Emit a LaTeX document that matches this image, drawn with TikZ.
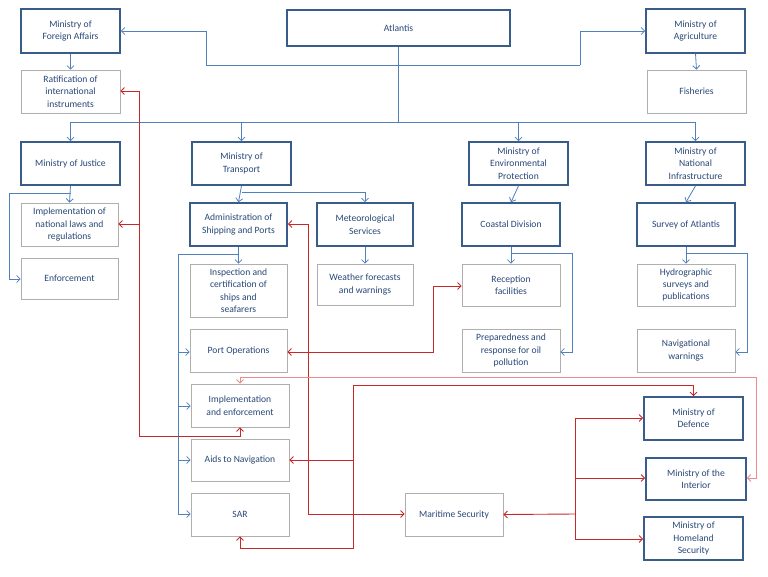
\documentclass[tikz,border=0pt]{standalone}
\usepackage{fontspec}
\setmainfont{Carlito}
\usetikzlibrary{arrows.meta}
\definecolor{txt}{RGB}{40,72,120}
\definecolor{bdk}{RGB}{56,93,138}
\definecolor{bln}{RGB}{79,129,189}
\definecolor{gry}{RGB}{175,175,175}
\definecolor{rdd}{RGB}{200,40,40}
\definecolor{lrd}{RGB}{232,140,140}
\newcommand\bx[7]{\node[#6, minimum width={#4pt-#2pt}, minimum height={#5pt-#3pt}] (#1) at ({(#2+#4)/2},{(#3+#5)/2}) {#7};}
\begin{document}
\begin{tikzpicture}[x=1pt,y=-1pt,
  base/.style={draw, align=center, inner sep=1pt, text=txt, font=\fontsize{9.6}{12.4}\selectfont},
  thk/.style={base, draw=bdk, line width=1.6pt},
  thn/.style={base, draw=gry, line width=0.7pt},
  bl/.style={draw=bln, line width=0.8pt, -{Straight Barb[length=3.5pt,width=7pt]}},
  bn/.style={draw=bln, line width=0.8pt},
  rd/.style={draw=rdd, line width=0.9pt, -{Straight Barb[length=3.5pt,width=7pt]}},
  rdb/.style={rd, {Straight Barb[length=3.5pt,width=7pt]}-{Straight Barb[length=3.5pt,width=7pt]}},
  rn/.style={draw=rdd, line width=0.9pt},
  lr/.style={draw=lrd, line width=0.9pt, {Straight Barb[length=3.5pt,width=7pt]}-{Straight Barb[length=3.5pt,width=7pt]}}]
\useasboundingbox[fill=white] (0,0) rectangle (768,576);
\bx{atl}{287}{10}{510}{46}{thk}{Atlantis}
\bx{mfa}{21}{9}{120}{53}{thk}{Ministry of\\Foreign Affairs}
\bx{rat}{21}{70}{120}{113}{thn}{Ratification of\\international\\instruments}
\bx{mag}{646}{9}{745}{53}{thk}{Ministry of\\Agriculture}
\bx{fis}{647}{70}{746}{113}{thn}{Fisheries}
\bx{jus}{21}{142}{120}{185}{thk}{Ministry of Justice}
\bx{tra}{192}{142}{291}{185}{thk}{Ministry of\\Transport}
\bx{env}{469}{142}{568}{185}{thk}{Ministry of\\Environmental\\Protection}
\bx{ni}{646}{142}{745}{185}{thk}{Ministry of\\National\\Infrastructure}
\bx{imn}{21}{203}{118}{246}{thn}{Implementation of\\national laws and\\regulations}
\bx{enf}{21}{258}{118}{299}{thn}{Enforcement}
\bx{adm}{190}{203}{287}{246}{thk}{Administration of\\Shipping and Ports}
\bx{met}{317}{203}{413}{246}{thk}{Meteorological\\Services}
\bx{wea}{317}{264}{413}{305}{thn}{Weather forecasts\\and warnings}
\bx{ins}{190}{264}{287}{317}{thn}{Inspection and\\certification of\\ships and\\seafarers}
\bx{por}{190}{329}{287}{372}{thn}{Port Operations}
\bx{coa}{462}{203}{560}{246}{thk}{Coastal Division}
\bx{rec}{462}{264}{560}{306}{thn}{Reception\\facilities}
\bx{pre}{462}{329}{560}{372}{thn}{Preparedness and\\response for oil\\pollution}
\bx{sur}{637}{203}{735}{246}{thk}{Survey of Atlantis}
\bx{hyd}{637}{264}{735}{306}{thn}{Hydrographic\\surveys and\\publications}
\bx{nav}{637}{329}{735}{372}{thn}{Navigational\\warnings}
\bx{ime}{191}{384}{289}{427}{thn}{Implementation\\and enforcement}
\bx{aid}{191}{439}{289}{481}{thn}{Aids to Navigation}
\bx{sar}{191}{493}{289}{536}{thn}{SAR}
\bx{mar}{405}{493}{503}{536}{thn}{Maritime Security}
\bx{def}{644}{397}{743}{440}{thk}{Ministry of\\Defence}
\bx{int}{646}{458}{746}{500}{thk}{Ministry of the\\Interior}
\bx{hom}{644}{517}{743}{560}{thk}{Ministry of\\Homeland\\Security}
% blue
\draw[bn] (atl.south) -- (atl.south |- 0,122);
\draw[bn] (jus.north |- 0,122) -- (ni.north |- 0,122);
\foreach \n in {jus,tra,env,ni} \draw[bl] (\n.north |- 0,122) -- (\n.north);
\draw[bn] (206,65) -- (580,65);
\draw[bl] (206,65) -- (206,31) -- (mfa.east |- 0,31);
\draw[bl] (580,65) -- (580,31) -- (mag.west |- 0,31);
\draw[bl] (mfa.south) -- (rat.north);
\draw[bl] (mag.south) -- (fis.north);
\draw[bl] (jus.south) -- (imn.north);
\draw[bl] (jus.south |- 0,193) -- (9,193) -- (9,279) -- (enf.west |- 0,279);
\draw[bl] (tra.south) -- (adm.north);
\draw[bl] (tra.south |- 0,192) -- (met.north |- 0,192) -- (met.north);
\draw[bl] (met.south) -- (wea.north);
\draw[bl] (adm.south) -- (ins.north);
\draw[bl] (adm.south |- 0,254) -- (178,254) -- (178,514) -- (sar.west |- 0,514);
\draw[bl] (178,352) -- (por.west |- 0,352);
\draw[bl] (178,406) -- (ime.west |- 0,406);
\draw[bl] (178,460) -- (aid.west |- 0,460);
\draw[bl] (env.south) -- (coa.north);
\draw[bl] (ni.south) -- (sur.north);
\draw[bl] (coa.south) -- (rec.north);
\draw[bl] (coa.south |- 0,253) -- (572,253) -- (572,352) -- (pre.east |- 0,352);
\draw[bl] (sur.south) -- (hyd.north);
\draw[bl] (sur.south |- 0,253) -- (747,253) -- (747,352) -- (nav.east |- 0,352);
% red
\draw[rd] (139,436) -- (139,91) -- (rat.east |- 0,91);
\draw[rd] (139,436) -- (ime.south |- 0,436) -- (ime.south);
\draw[rd] (139,224) -- (imn.east |- 0,224);
\draw[rdb] (adm.east |- 0,224) -- (308,224) -- (308,514) -- (mar.west |- 0,514);
\draw[rdb] (por.east |- 0,352) -- (433,352) -- (433,286) -- (rec.west |- 0,286);
\draw[rdb] (aid.east |- 0,460) -- (353,460) -- (353,385) -- (def.north |- 0,385) -- (def.north);
\draw[rd] (353,460) -- (353,548) -- (sar.south |- 0,548) -- (sar.south);
\draw[lr] (ime.north) -- (ime.north |- 0,377) -- (756,377) -- (756,478) -- (int.east |- 0,478);
\draw[rd] (575,514) -- (mar.east);
\draw[rn] (575,418) -- (575,539);
\draw[rd] (575,418) -- (def.west |- 0,418);
\draw[rd] (575,478) -- (int.west |- 0,478);
\draw[rd] (575,539) -- (hom.west |- 0,539);
\end{tikzpicture}
\end{document}
